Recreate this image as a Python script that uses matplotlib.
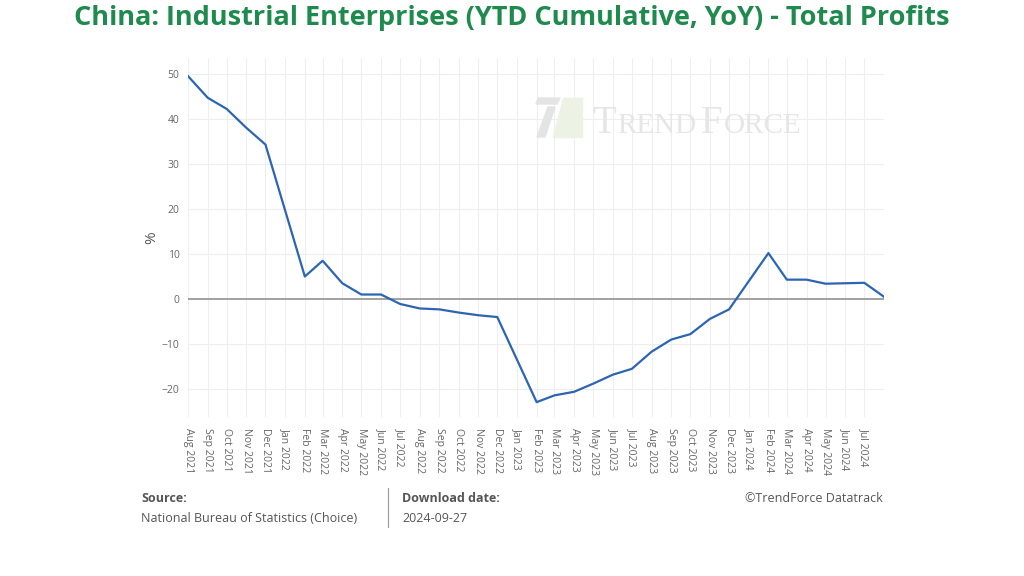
import pandas as pd
import matplotlib.pyplot as plt
from matplotlib.patches import Polygon

# YTD cumulative YoY of total profits (%); Jan is not published separately
months = ["2021-08", "2021-09", "2021-10", "2021-11", "2021-12",
          "2022-02", "2022-03", "2022-04", "2022-05", "2022-06", "2022-07",
          "2022-08", "2022-09", "2022-10", "2022-11", "2022-12",
          "2023-02", "2023-03", "2023-04", "2023-05", "2023-06", "2023-07",
          "2023-08", "2023-09", "2023-10", "2023-11", "2023-12",
          "2024-02", "2024-03", "2024-04", "2024-05", "2024-06", "2024-07",
          "2024-08"]
profits = [49.5, 44.7, 42.2, 38.0, 34.3,
           5.0, 8.5, 3.5, 1.0, 1.0, -1.1,
           -2.1, -2.3, -3.0, -3.6, -4.0,
           -22.9, -21.4, -20.6, -18.8, -16.8, -15.5,
           -11.7, -9.0, -7.8, -4.4, -2.3,
           10.2, 4.3, 4.3, 3.4, 3.5, 3.6,
           0.5]
tick_months = pd.date_range("2021-08-01", "2024-07-01", freq="MS")
y_ticks = [-20, -10, 0, 10, 20, 30, 40, 50]

title = "China: Industrial Enterprises (YTD Cumulative, YoY) - Total Profits"
green = "#1e8a4e"
grey_txt = "#555555"

plt.rcParams["font.family"] = ["Open Sans", "DejaVu Sans"]

W, H = 1024, 576
fig = plt.figure(figsize=(W / 100, H / 100), dpi=100)
ax = fig.add_axes([188 / W, 1 - 417 / H, (884 - 188) / W, (417 - 59) / H])

x = pd.to_datetime(months)
ax.plot(x, profits, color="#2c65b1", lw=1.6, zorder=3, solid_joinstyle="round")

ax.set_xlim(x[0], x[-1])
ax.set_ylim(-26.2, 53.3)
ax.set_xticks(tick_months)
ax.set_xticklabels([d.strftime("%b %Y") for d in tick_months], rotation=-90,
                   ha="center", va="top", fontsize=7.5, color="#666666")
ax.set_yticks(y_ticks)
ax.set_yticklabels([f"\u2212{abs(v)}" if v < 0 else str(v) for v in y_ticks],
                   fontsize=7.5, color="#666666")
ax.tick_params(length=0, pad=6)
ax.tick_params(axis="x", pad=8)
ax.grid(True, color="#eeeeee", lw=0.8)
ax.axhline(0, color="#9a9a9a", lw=1.3, zorder=2)
for s in ax.spines.values():
    s.set_visible(False)
ax.set_ylabel("%", fontsize=11, color="#555555", labelpad=2)

# faint watermark
wm = dict(family="Liberation Serif", color="#e6e6e6", ha="left",
          va="baseline", zorder=1)
fig.text(592 / W, 1 - 133 / H, "T", fontsize=28, **wm)
fig.text(617 / W, 1 - 133 / H, "REND", fontsize=21, **wm)
fig.text(701 / W, 1 - 133 / H, "F", fontsize=28, **wm)
fig.text(724 / W, 1 - 133 / H, "ORCE", fontsize=21, **wm)
fig.patches.append(Polygon([(538 / W, 1 - 98 / H), (560 / W, 1 - 98 / H),
                            (557 / W, 1 - 104 / H), (536 / W, 1 - 104 / H)],
                           closed=True, transform=fig.transFigure,
                           color="#e4e4e4", zorder=1))
fig.patches.append(Polygon([(548 / W, 1 - 107 / H), (555 / W, 1 - 107 / H),
                            (545 / W, 1 - 137 / H), (537 / W, 1 - 137 / H)],
                           closed=True, transform=fig.transFigure,
                           color="#e4e4e4", zorder=1))
fig.patches.append(Polygon([(563 / W, 1 - 98 / H), (582 / W, 1 - 98 / H),
                            (582 / W, 1 - 137 / H), (553 / W, 1 - 137 / H)],
                           closed=True, transform=fig.transFigure,
                           color="#edf3e4", zorder=1))

fig.text(0.5, 1 - 18 / H, title, ha="center", va="center", fontsize=19.5,
         fontweight="bold", color=green)

fig.text(141 / W, 1 - 498 / H, "Source:", fontsize=9, fontweight="bold",
         color=grey_txt, va="center")
fig.text(141 / W, 1 - 518 / H, "National Bureau of Statistics (Choice)",
         fontsize=9, color=grey_txt, va="center")
fig.add_artist(plt.Line2D([388 / W, 388 / W], [1 - 488 / H, 1 - 527 / H],
                          color="#999999", lw=0.8))
fig.text(402 / W, 1 - 498 / H, "Download date:", fontsize=9, fontweight="bold",
         color=grey_txt, va="center")
fig.text(402 / W, 1 - 518 / H, "2024-09-27", fontsize=9, color=grey_txt,
         va="center")
fig.text(883 / W, 1 - 498 / H, "\u00a9TrendForce Datatrack", fontsize=9,
         color=grey_txt, va="center", ha="right")

fig.savefig("out.png", dpi=100, facecolor="white")
